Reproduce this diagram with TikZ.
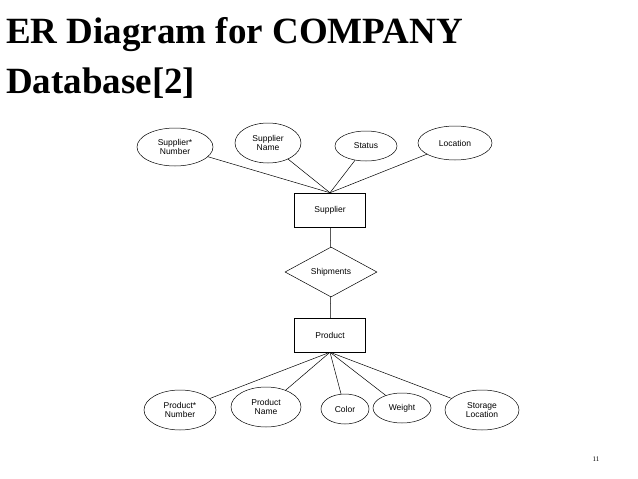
\documentclass[tikz,border=0pt]{standalone}
\usepackage{fontspec}
\setmainfont{Liberation Serif}
\newfontfamily\diagfont{Liberation Sans}
\usetikzlibrary{shapes.geometric}

\tikzset{
  attr/.style={draw, ellipse, inner sep=0pt, font=\diagfont\fontsize{8.5}{9}\selectfont, align=center},
  entity/.style={draw, rectangle, minimum width=71pt, minimum height=34pt, font=\diagfont\fontsize{8.5}{9}\selectfont},
  rel/.style={draw, diamond, aspect=1.85, inner sep=0pt, minimum width=92pt, minimum height=50pt, font=\diagfont\fontsize{8.5}{9}\selectfont}
}

\begin{document}
\begin{tikzpicture}[x=1pt, y=-1pt, line width=0.5pt]
  \useasboundingbox (0,0) rectangle (638,479);

  % title
  \node[anchor=west, inner sep=0pt, font=\bfseries\fontsize{37}{50}\selectfont, align=left] (title) at (6,58)
    {ER Diagram for COMPANY\\Database[2]};

  % entities
  \node[entity] (supplier) at (330,210) {Supplier};
  \node[rel] (ship) at (331,272) {Shipments};
  \node[entity] (product) at (330,335) {Product};

  % supplier attributes
  \node[attr, minimum width=76pt, minimum height=38pt] (snum) at (175,147) {Supplier*\\Number};
  \node[attr, minimum width=66pt, minimum height=40pt] (sname) at (268,143) {Supplier\\Name};
  \node[attr, minimum width=62pt, minimum height=30pt] (status) at (366,146) {Status};
  \node[attr, minimum width=74pt, minimum height=34pt] (loc) at (455,143) {Location};

  % product attributes
  \node[attr, minimum width=72pt, minimum height=40pt] (pnum) at (180,410) {Product*\\Number};
  \node[attr, minimum width=70pt, minimum height=40pt] (pname) at (266,407) {Product\\Name};
  \node[attr, minimum width=48pt, minimum height=30pt] (color) at (345,409) {Color};
  \node[attr, minimum width=58pt, minimum height=30pt] (weight) at (402,408) {Weight};
  \node[attr, minimum width=74pt, minimum height=40pt] (store) at (482,410) {Storage\\Location};

  % connectors
  \draw (snum) -- (supplier.north);
  \draw (sname) -- (supplier.north);
  \draw (status) -- (supplier.north);
  \draw (loc) -- (supplier.north);
  \draw (supplier) -- (ship);
  \draw (ship) -- (product);
  \draw (pnum) -- (product.south);
  \draw (pname) -- (product.south);
  \draw (color) -- (product.south);
  \draw (weight) -- (product.south);
  \draw (store) -- (product.south);

  \node[font=\fontsize{7}{8}\selectfont] (page) at (596,459) {11};
\end{tikzpicture}
\end{document}
